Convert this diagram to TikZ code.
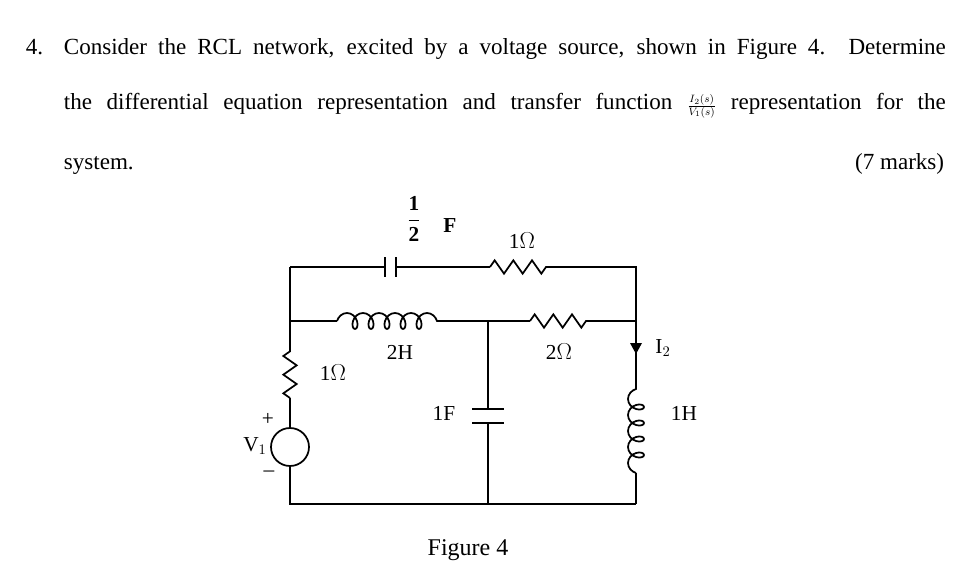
\documentclass[tikz,border=0pt]{standalone}
\usepackage{fontspec}
\setmainfont{Liberation Serif}
\usetikzlibrary{decorations.pathmorphing}
\begin{document}
\begin{tikzpicture}[x=0.75pt,y=-0.75pt,line width=1.3pt,
  txt/.style={font=\fontsize{17.3}{20}\selectfont,inner sep=0pt},
  lbl/.style={font=\fontsize{16}{18}\selectfont,inner sep=1pt},
  res/.style={decorate,decoration={zigzag,amplitude=5pt,segment length=14pt}},
  ind/.style={decorate,decoration={coil,aspect=0.75,amplitude=6pt,segment length=12pt}}]
\useasboundingbox (0,0) rectangle (967,588);
\node[txt,anchor=base west] (n4) at (25,55) {4.};
\node[txt,anchor=base west] (l1) at (63,55) {\makebox[661.5pt][s]{Consider the RCL network, excited by a voltage source, shown in Figure 4. Determine}};
\node[txt,anchor=base west] (l2) at (63,110) {\makebox[661.5pt][s]{the differential equation representation and transfer function {\large$\frac{I_2(s)}{V_1(s)}$} representation for the}};
\node[txt,anchor=base west] (l3) at (63,170) {system.};
\node[txt,anchor=base east] (l4) at (945,170) {(7 marks)};
% nodes
\coordinate (TL) at (290,267); \coordinate (TR) at (636,267);
\coordinate (ML) at (290,321); \coordinate (MM) at (488,321); \coordinate (MR) at (636,321);
\coordinate (BL) at (290,504); \coordinate (BM) at (488,504); \coordinate (BR) at (636,504);
\coordinate (c1a) at (385,267); \coordinate (c1b) at (396,267);
\coordinate (r1a) at (490,267); \coordinate (r1b) at (548,267);
\coordinate (l2a) at (337,321); \coordinate (l2b) at (443,321);
\coordinate (r2a) at (530,321); \coordinate (r2b) at (588,321);
\coordinate (r3a) at (290,343); \coordinate (r3b) at (290,398);
\coordinate (c2a) at (488,409); \coordinate (c2b) at (488,423);
\coordinate (l1a) at (636,380); \coordinate (l1b) at (636,473);
\node[circle,draw,minimum size=38*0.75pt,inner sep=0pt,line width=1.3pt] (src) at (290,447) {};
% top branch
\draw (TL) -- (c1a); \draw (c1a)+(0,-10) -- +(0,10); \draw (c1b)+(0,-10) -- +(0,10);
\draw (c1b) -- (r1a); \draw[res] (r1a) -- (r1b); \draw (r1b) -- (TR) -- (MR);
% middle
\draw (TL) -- (ML) -- (l2a); \draw[ind] (l2a) -- (l2b); \draw (l2b) -- (MM) -- (r2a);
\draw[res] (r2a) -- (r2b); \draw (r2b) -- (MR);
% left
\draw (ML) -- (r3a); \draw[res] (r3b) -- (r3a); \draw (r3b) -- (src.north);
\draw (src.south) -- (BL) -- (BR);
% cap 1F
\draw (MM) -- (c2a); \draw (c2a)+(-16,0) -- +(16,0); \draw (c2b)+(-16,0) -- +(16,0); \draw (c2b) -- (BM);
% right
\draw (MR) -- (l1a); \draw[ind] (l1b) -- (l1a); \draw (l1b) -- (BR);
\fill (630,343) -- (642,343) -- (636,354) -- cycle;
% labels
\node[lbl] (f1) at (414,219) {$\displaystyle\frac{\textbf{1}}{\textbf{2}}$};
\node[lbl] (fF) at (450,226) {\textbf{F}};
\node[lbl] (t1) at (522,241) {1$\Omega$};
\node[lbl] (t2H) at (400,352) {2H};
\node[lbl] (t2O) at (559,352) {2$\Omega$};
\node[lbl] (t1L) at (333,373) {1$\Omega$};
\node[lbl] (t1F) at (444,413) {1F};
\node[lbl] (t1H) at (684,413) {1H};
\node[lbl] (tI) at (663,348) {I$_2$};
\node[lbl] (tV) at (255,446) {V$_1$};
\node[lbl] (tp) at (268,419) {+};
\node[lbl] (tm) at (269,474) {--};
\node[lbl,font=\fontsize{18}{20}\selectfont] (fig) at (468,550) {Figure 4};
\end{tikzpicture}
\end{document}
